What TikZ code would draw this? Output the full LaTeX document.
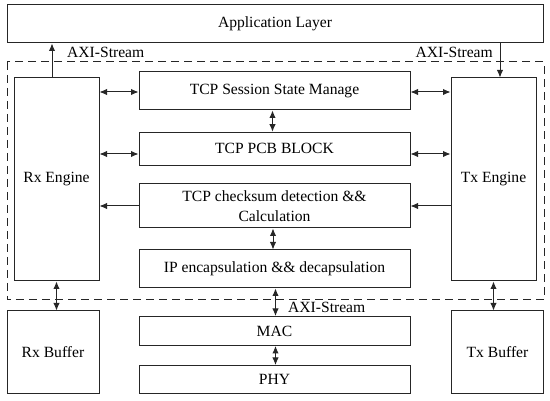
\documentclass[tikz,border=0pt]{standalone}
\usepackage{fontspec}
\setmainfont{Liberation Serif}
\usetikzlibrary{arrows.meta}

\tikzstyle{block}=[draw=black!85,line width=1pt,rectangle,inner sep=0pt,align=center,font=\fontsize{15.6}{20}\selectfont]
\tikzstyle{mid block}=[block,minimum width=271pt]
\tikzstyle{engine}=[block,minimum width=85pt,minimum height=203pt]
\tikzstyle{buffer}=[block,minimum width=92pt,minimum height=83pt]
\tikzstyle{link}=[draw=black!85,line width=1pt,-{Latex[length=7.5pt,width=6.5pt]}]
\tikzstyle{both link}=[draw=black!85,line width=1pt,{Latex[length=7.5pt,width=6.5pt]}-{Latex[length=7.5pt,width=6.5pt]}]
\tikzstyle{label}=[inner sep=0pt,font=\fontsize{15.6}{18}\selectfont]

\begin{document}
\begin{tikzpicture}[x=1pt,y=-1pt]
	\useasboundingbox (0,0) rectangle (550,401);
	% the dashed frame of the stack
	\draw[black!85,line width=1pt,dash pattern=on 8pt off 5pt] (7,62) rectangle (544,300);
	% blocks
	\node[block,minimum width=536pt,minimum height=38pt] (app) at (275,24) {Application Layer};
	\node[engine] (rx) at (56.5,179.5) {Rx Engine};
	\node[engine] (tx) at (493.5,179.5) {Tx Engine};
	\node[mid block,minimum height=38pt] (session) at (274.5,91) {TCP Session State Manage};
	\node[mid block,minimum height=33pt] (pcb) at (274.5,148.7) {TCP PCB BLOCK};
	\node[mid block,minimum height=44pt] (csum) at (274.5,206) {TCP checksum detection \&\&\\Calculation};
	\node[mid block,minimum height=38pt] (ip) at (274.5,269) {IP encapsulation \&\& decapsulation};
	\node[mid block,minimum height=29pt] (mac) at (274.5,331) {MAC};
	\node[mid block,minimum height=28pt] (phy) at (274.5,379.5) {PHY};
	\node[buffer] (rxbuf) at (53,352.5) {Rx Buffer};
	\node[buffer] (txbuf) at (497.5,352.5) {Tx Buffer};
	% AXI-Stream links to the application
	\path[link] ([xshift=-4.5pt]rx.north) -- ([xshift=-4.5pt]rx.north |- app.south);
	\path[link] ([xshift=6.5pt]tx.north |- app.south) -- ([xshift=6.5pt]tx.north);
	\node[label,anchor=west] (axil) at (67,52) {AXI-Stream};
	\node[label,anchor=east] (axir) at (493,52) {AXI-Stream};
	% engines to the middle blocks
	\foreach \blk/\dy in {session/-1,pcb/-5.3}
	{
		\path[both link] ([yshift=\dy pt]\blk.west -| rx.east) -- ([yshift=\dy pt]\blk.west);
		\path[both link] ([yshift=\dy pt]\blk.east) -- ([yshift=\dy pt]\blk.east -| tx.west);
	}
	\path[link] (csum.west) -- (csum.west -| rx.east);
	\path[link] (csum.east -| tx.west) -- (csum.east);
	% down the middle
	\foreach \upper/\lower/\dx in {session/pcb/-2, csum/ip/-1.5, ip/mac/1, mac/phy/1}
		\path[both link] ([xshift=\dx pt]\upper.south) -- ([xshift=\dx pt]\lower.north);
	\node[label,anchor=west] (axib) at (288,307) {AXI-Stream};
	% engines to the buffers
	\path[both link] (rx.south) -- (rx.south |- rxbuf.north);
	\path[both link] (tx.south) -- (tx.south |- txbuf.north);
\end{tikzpicture}
\end{document}
